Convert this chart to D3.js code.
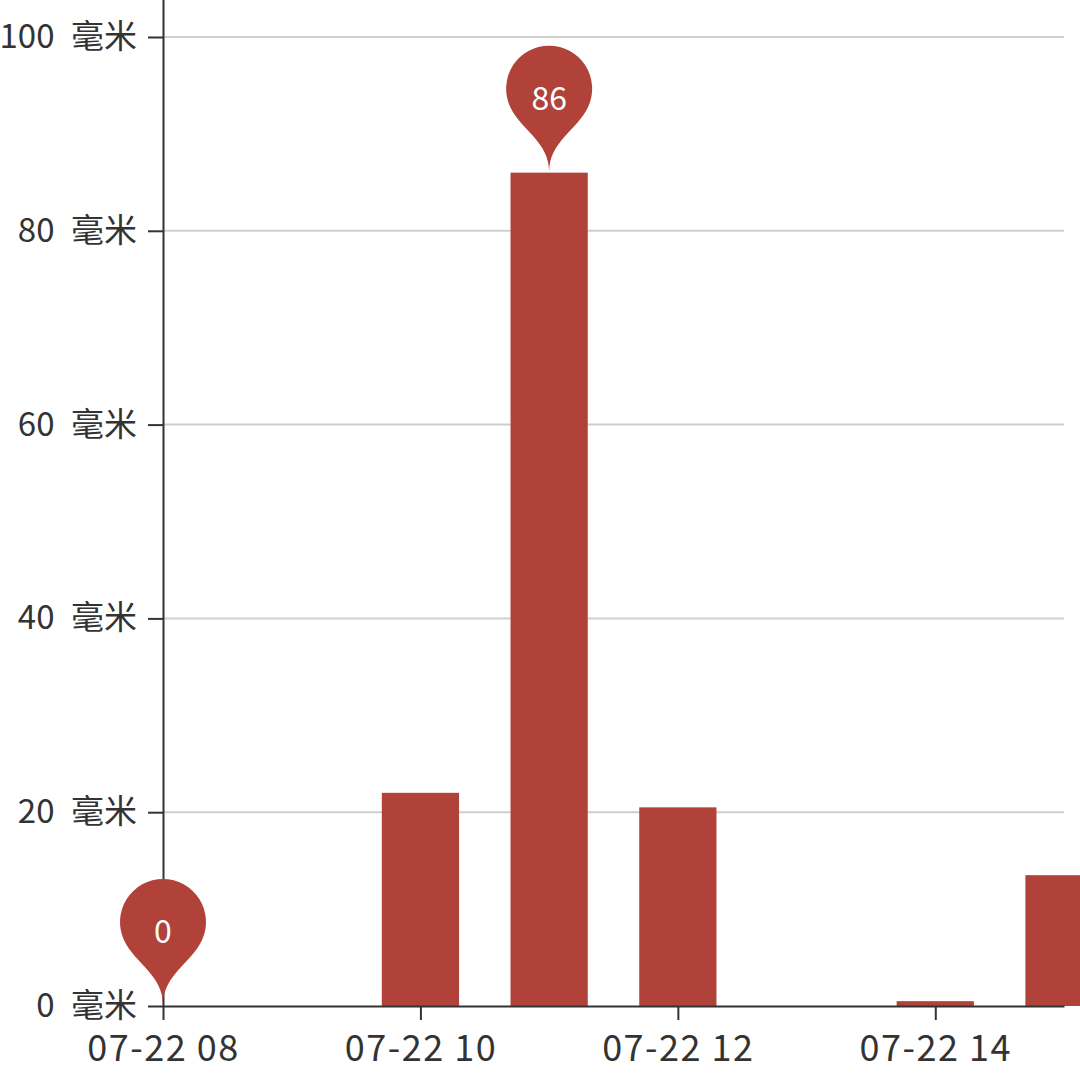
<!DOCTYPE html>
<html><head><meta charset="utf-8">
<script src="https://cdn.jsdelivr.net/npm/d3@7"></script>
<style>html,body{margin:0;padding:0;background:#fff;overflow:hidden}</style>
</head><body><svg id="c" width="1080" height="1080"></svg>
<script>
const categories = ["07-22 08","07-22 09","07-22 10","07-22 11","07-22 12","07-22 13","07-22 14","07-22 15"];
const rainfall = [0, 0, 22, 86, 20.5, 0, 0.5, 13.5];
const yTicks = [0, 20, 40, 60, 80, 100];
const yUnit = "毫米";
const markIdx = [3, 0]; // max and min mark points

const FONT = "'Noto Sans CJK SC','Noto Sans',sans-serif";
const BAR = "#b0423a";
const svg = d3.select("#c");

const parse = d3.timeParse("%Y-%m-%d %H");
const dates = categories.map(c => parse("2021-" + c));
const x = d3.scaleTime().domain([dates[0], dates[dates.length - 1]]).range([163, 1064]);
const y = d3.scaleLinear().domain([0, 120]).range([1006, 1006 - 120 * 9.69]);

// grid
svg.append("g").selectAll("line").data(yTicks.filter(d => d > 0)).join("line")
  .attr("x1", 163).attr("x2", 1064)
  .attr("y1", d => y(d)).attr("y2", d => y(d))
  .attr("stroke", "#cfcfcf").attr("stroke-width", 2);

// bars
const step = x(dates[1]) - x(dates[0]);
const bw = step * 0.6;
svg.append("g").selectAll("rect").data(rainfall).join("rect")
  .attr("x", (d, i) => x(dates[i]) - bw / 2)
  .attr("y", d => y(d))
  .attr("width", bw)
  .attr("height", d => y(0) - y(d))
  .attr("fill", BAR);

// axes
const yAxis = svg.append("g").attr("transform", "translate(163,0)")
  .call(d3.axisLeft(y).tickValues(yTicks).tickSize(15).tickSizeOuter(0).tickPadding(11)
    .tickFormat(d => d + "\u2002" + yUnit));
const xAxis = svg.append("g").attr("transform", "translate(0,1006)")
  .call(d3.axisBottom(x).ticks(d3.timeHour.every(2)).tickSize(14).tickSizeOuter(0).tickPadding(15)
    .tickFormat(d3.timeFormat("%m-%d %H")));
[yAxis, xAxis].forEach(g => {
  g.selectAll("path,line").attr("stroke", "#333").attr("stroke-width", 2);
  g.selectAll("text").attr("fill", "#333").style("font-family", FONT);
});
yAxis.selectAll("text").style("font-size", "33px");
xAxis.selectAll("text").style("font-size", "36px").style("letter-spacing", "1.5px");

// pins
function pinPath(cx, tipY, r, totalH) {
  // echarts-style pin; solve h so that visible height = totalH
  const k = ((totalH - r) + Math.sqrt((totalH - r) ** 2 + 4 * r * r)) / 2;
  const h = k + r;
  const dy = r * r / (h - r);
  const cy = tipY - h + r + dy;
  const angle = Math.asin(dy / r);
  const dx = Math.cos(angle) * r;
  const tanX = Math.sin(angle), tanY = Math.cos(angle);
  const cp = r * 0.6, cp2 = r * 0.7;
  const p = d3.path();
  p.moveTo(cx - dx, cy + dy);
  p.arc(cx, cy, r, Math.PI - angle, Math.PI * 2 + angle);
  p.bezierCurveTo(cx + dx - tanX * cp, cy + dy + tanY * cp, cx, tipY - cp2, cx, tipY);
  p.bezierCurveTo(cx, tipY - cp2, cx - dx + tanX * cp, cy + dy + tanY * cp, cx - dx, cy + dy);
  p.closePath();
  return { d: p.toString(), cy };
}
const pg = svg.append("g");
markIdx.forEach(i => {
  const tip = y(rainfall[i]) - 1;
  const pp = pinPath(x(dates[i]), tip, 43, 126);
  pg.append("path").attr("d", pp.d).attr("fill", BAR);
  pg.append("text").attr("x", x(dates[i])).attr("y", pp.cy + 7)
    .attr("text-anchor", "middle").attr("dominant-baseline", "central")
    .attr("fill", "#fff").style("font-family", FONT).style("font-size", "32px")
    .text(d3.format("~g")(rainfall[i]));
});
</script></body></html>
